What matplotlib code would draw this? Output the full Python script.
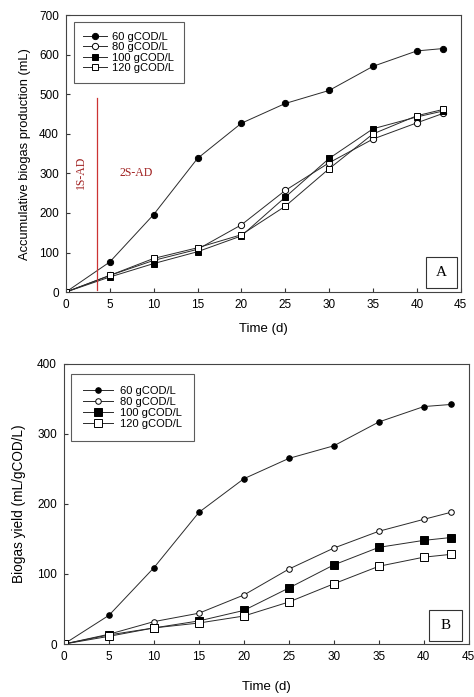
"""Biogas production (A) and biogas yield (B) vs time for four COD loadings"""
import matplotlib
matplotlib.use('Agg')
import matplotlib.pyplot as plt

plt.rcParams['font.family'] = ['Liberation Sans', 'DejaVu Sans']

# Data
days = [0, 5, 10, 15, 20, 25, 30, 35, 40, 43]
labels = ['60 gCOD/L', '80 gCOD/L', '100 gCOD/L', '120 gCOD/L']

prod_60 = [0, 76, 196, 338, 427, 477, 510, 571, 610, 616]
prod_80 = [0, 42, 80, 108, 170, 257, 327, 387, 428, 452]
prod_100 = [0, 38, 72, 102, 142, 240, 338, 413, 443, 458]
prod_120 = [0, 42, 85, 112, 145, 217, 312, 400, 446, 462]

yield_60 = [0, 41, 109, 188, 236, 265, 283, 317, 339, 342]
yield_80 = [0, 14, 32, 44, 70, 107, 137, 161, 178, 188]
yield_100 = [0, 13, 23, 33, 48, 80, 113, 138, 148, 152]
yield_120 = [0, 11, 23, 30, 40, 60, 86, 111, 124, 128]

phase_split = 3.5

styles = [
    dict(marker='o', mfc='black', mec='black'),
    dict(marker='o', mfc='white', mec='black'),
    dict(marker='s', mfc='black', mec='black'),
    dict(marker='s', mfc='white', mec='black'),
]


def style_axes(ax, ymax, ystep, labelpad):
    ax.set_xlim(0, 45)
    ax.set_ylim(0, ymax)
    ax.set_xticks(range(0, 46, 5))
    ax.set_yticks(range(0, ymax + 1, ystep))
    ax.tick_params(direction='in', length=3, width=0.8, labelsize=8.5,
                   colors='#333333', labelcolor='black', pad=5)
    for sp in ax.spines.values():
        sp.set_color('#444444')
        sp.set_linewidth(0.8)
    ax.set_xlabel('Time (d)', fontsize=9.5, labelpad=labelpad)


def panel_tag(ax, letter, x0, x1, y0, y1):
    ax.add_patch(plt.Rectangle((x0, y0), x1 - x0, y1 - y0, fill=False,
                               ec='#333333', lw=0.8, zorder=5))
    ax.text((x0 + x1) / 2, (y0 + y1) / 2, letter, ha='center', va='center',
            fontsize=11, family=['Liberation Serif', 'DejaVu Serif'], zorder=6)


fig = plt.figure(figsize=(4.74, 6.97), dpi=100)

# Panel A
ax1 = fig.add_axes([0.139, 0.581, 0.833, 0.397])
sizes_a = [4.5, 4.5, 4.5, 4.5]
for series, lab, st, ms in zip([prod_60, prod_80, prod_100, prod_120], labels, styles, sizes_a):
    ax1.plot(days, series, color='#2a2a2a', lw=0.7, ms=ms, mew=0.7, label=lab, **st)
style_axes(ax1, 700, 100, 9)
ax1.set_ylabel('Accumulative biogas production (mL)', fontsize=9.3, labelpad=6)
ax1.plot([phase_split, phase_split], [6, 491], color='#cc3333', lw=0.9)
serif = ['Liberation Serif', 'DejaVu Serif']
ax1.text(1.7, 303, '1S-AD', rotation=90, ha='center', va='center',
         color='#a02020', fontsize=8.5, family=serif)
ax1.text(8.0, 302, '2S-AD', ha='center', va='center',
         color='#a02020', fontsize=8.5, family=serif)
panel_tag(ax1, 'A', 41.0, 44.6, 11, 88)
leg = ax1.legend(loc='upper left', bbox_to_anchor=(0.02, 0.975), fontsize=8,
                 frameon=True, fancybox=False, edgecolor='#333333',
                 handlelength=2.1, handletextpad=0.5, labelspacing=0.05,
                 borderpad=0.85, borderaxespad=0)
leg.get_frame().set_linewidth(0.8)

# Panel B
ax2 = fig.add_axes([0.135, 0.076, 0.854, 0.402])
sizes_b = [4, 4, 5.5, 5.5]
for series, lab, st, ms in zip([yield_60, yield_80, yield_100, yield_120], labels, styles, sizes_b):
    ax2.plot(days, series, color='#2a2a2a', lw=0.7, ms=ms, mew=0.7, label=lab, **st)
style_axes(ax2, 400, 100, 13)
ax2.set_ylabel('Biogas yield (mL/gCOD/L)', fontsize=9.8, labelpad=8)
panel_tag(ax2, 'B', 40.6, 44.2, 4, 48.5)
leg = ax2.legend(loc='upper left', bbox_to_anchor=(0.018, 0.965), fontsize=8,
                 frameon=True, fancybox=False, edgecolor='#333333',
                 handlelength=2.7, handletextpad=0.6, labelspacing=0.1,
                 borderpad=1.1, borderaxespad=0)
leg.get_frame().set_linewidth(0.8)

plt.savefig('out.png', dpi=100)
plt.close()
